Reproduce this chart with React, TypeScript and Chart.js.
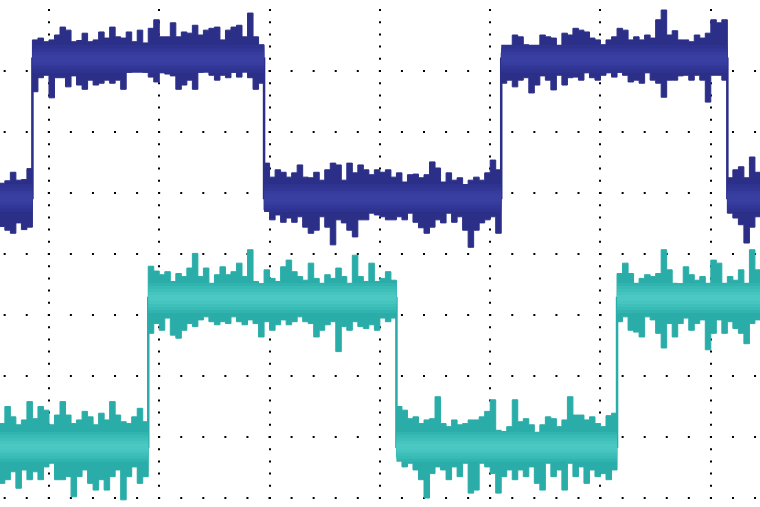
import { useEffect, useRef } from "react";
import { Chart, registerables } from "chart.js";

Chart.register(...registerables);

// time base (divisions) and visible window
const T0 = -0.45;
const DT = 0.05;
const X_MIN = -0.444;
const X_MAX = 6.446;
const Y_MIN = -0.1475;
const Y_MAX = 8.164;
const xGridTicks = [0, 1, 2, 3, 4, 5, 6];
const yGridTicks = [0, 1, 2, 3, 4, 5, 6, 7];

// channel 1 (blue): nominal levels and switching times
const blueEdges = [-0.15, 1.95, 4.1, 6.15];
const blueLevels = [4.92, 7.2, 4.92, 7.2, 4.92];
// channel 1 noise envelope (upper / lower), one value every 0.05 div
const blueTop = [
  5.16, 5.2, 5.34, 5.21, 5.22, 5.4,
  7.51, 7.54, 7.48, 7.51, 7.59, 7.72, 7.67, 7.48, 7.5, 7.62, 7.48, 7.51, 7.64, 7.54, 7.72, 7.56, 7.54, 7.64, 7.48, 7.67, 7.46,
  7.7, 7.84, 7.56, 7.56, 7.79, 7.56, 7.64, 7.62, 7.75, 7.59, 7.67, 7.7, 7.72, 7.51, 7.67, 7.72, 7.75, 7.56, 7.95, 7.56, 7.43,
  5.49, 5.26, 5.38, 5.34, 5.26, 5.33, 5.46, 5.26, 5.25, 5.34, 5.21, 5.38, 5.49, 5.46, 5.21, 5.49, 5.33, 5.46, 5.38, 5.3, 5.38,
  5.34, 5.38, 5.26, 5.33, 5.18, 5.3, 5.31, 5.25, 5.3, 5.51, 5.41, 5.18, 5.33, 5.21, 5.25, 5.13, 5.21, 5.26, 5.21, 5.33, 5.54, 5.38,
  7.3, 7.38, 7.59, 7.56, 7.43, 7.39, 7.39, 7.59, 7.56, 7.54, 7.39, 7.62, 7.59, 7.7, 7.67, 7.64, 7.54, 7.51, 7.43, 7.51, 7.56,
  7.7, 7.67, 7.51, 7.56, 7.51, 7.59, 7.54, 7.84, 8.0, 7.59, 7.66, 7.51, 7.51, 7.48, 7.59, 7.54, 7.62, 7.84, 7.79, 7.84,
  5.25, 5.38, 5.43, 5.25, 5.59, 5.34, 5.34,
];
const blueBottom = [
  4.45, 4.39, 4.34, 4.51, 4.4, 4.44,
  6.66, 6.89, 6.93, 6.56, 6.89, 6.89, 6.74, 6.92, 6.77, 6.7, 6.85, 6.77, 6.8, 6.85, 6.8, 6.85, 6.7, 6.98, 7.05, 7.02, 6.98,
  6.9, 6.82, 6.97, 6.95, 6.92, 6.7, 6.77, 6.85, 6.7, 6.98, 7.02, 6.93, 6.85, 6.93, 6.89, 6.98, 6.9, 7.02, 6.89, 6.7, 6.8,
  4.72, 4.56, 4.64, 4.52, 4.59, 4.52, 4.61, 4.44, 4.34, 4.39, 4.61, 4.44, 4.15, 4.56, 4.51, 4.39, 4.28, 4.56, 4.56, 4.67, 4.64,
  4.61, 4.56, 4.56, 4.61, 4.56, 4.67, 4.52, 4.43, 4.34, 4.44, 4.56, 4.51, 4.67, 4.52, 4.61, 4.39, 4.11, 4.39, 4.51, 4.56, 4.61, 4.34,
  6.8, 6.85, 6.74, 6.85, 6.89, 6.64, 6.77, 6.92, 6.85, 6.69, 6.93, 6.77, 6.89, 6.9, 6.85, 6.97, 6.89, 6.85, 6.93, 6.97, 6.9,
  6.98, 6.93, 6.82, 6.85, 6.8, 6.97, 6.85, 6.8, 6.57, 6.85, 6.85, 6.92, 6.93, 6.85, 6.93, 6.85, 6.49, 6.93, 6.93, 6.85,
  4.67, 4.59, 4.48, 4.18, 4.44, 4.61, 4.61,
];

// channel 2 (teal)
const tealEdges = [0.9, 3.15, 5.15];
const tealLevels = [0.84, 3.28, 0.84, 3.28];
const tealTop = [
  1.22, 1.5, 1.33, 1.2, 1.28, 1.58, 1.3, 1.5, 1.44, 1.2, 1.36, 1.58, 1.36, 1.22, 1.28, 1.42, 1.33, 1.2, 1.39, 1.28, 1.58, 1.36,
  1.25, 1.22, 1.33, 1.47, 1.25,
  3.8, 3.72, 3.66, 3.71, 3.55, 3.68, 3.63, 3.77, 4.01, 3.63, 3.77, 3.52, 3.66, 3.79, 3.66, 3.71, 3.85, 3.63, 4.07, 3.55, 3.49,
  3.74, 3.6, 3.55, 3.79, 3.9, 3.71, 3.63, 3.57, 3.85, 3.6, 3.52, 3.66, 3.6, 3.77, 3.63, 3.52, 3.98, 3.63, 3.55, 3.85, 3.55,
  3.6, 3.71, 3.57,
  1.5, 1.44, 1.3, 1.33, 1.22, 1.28, 1.3, 1.66, 1.22, 1.17, 1.28, 1.2, 1.22, 1.28, 1.28, 1.33, 1.42, 1.61, 1.11, 1.09,
  1.17, 1.61, 1.25, 1.3, 1.2, 1.0, 1.2, 1.33, 1.3, 1.17, 1.28, 1.66, 1.36, 1.36, 1.28, 1.33, 1.22, 1.17, 1.35, 1.39,
  3.68, 3.85, 3.68, 3.52, 3.6, 3.66, 3.63, 3.68, 4.07, 3.74, 3.52, 3.45, 3.79, 3.66, 3.57, 3.63, 3.52, 3.9, 3.85, 3.52,
  3.63, 3.57, 3.74, 3.52, 4.07, 3.74, 3.74,
];
const tealBottom = [
  0.24, 0.3, 0.43, 0.16, 0.46, 0.3, 0.43, 0.3, 0.51, 0.57, 0.3, 0.3, 0.35, 0.02, 0.35, 0.46, 0.24, 0.13, 0.3, 0.13, 0.35, 0.46,
  -0.03, 0.35, 0.51, 0.24, 0.35,
  2.7, 2.86, 2.75, 2.95, 2.67, 2.62, 2.75, 2.86, 2.81, 2.92, 2.97, 2.89, 2.84, 2.89, 2.86, 2.97, 2.89, 2.84, 2.92, 2.86, 2.64,
  2.89, 2.75, 2.84, 2.92, 2.84, 2.89, 2.97, 2.89, 2.86, 2.64, 2.75, 2.84, 2.89, 2.4, 2.81, 2.75, 2.89, 2.81, 2.78, 2.84, 2.75,
  2.95, 2.89, 2.95,
  0.68, 0.51, 0.57, 0.46, 0.3, 0.0, 0.4, 0.51, 0.46, 0.3, 0.51, 0.35, 0.57, 0.08, 0.13, 0.57, 0.51, 0.4, 0.08, 0.35,
  0.46, 0.3, 0.46, 0.35, 0.51, 0.24, 0.13, 0.57, 0.35, 0.46, 0.13, 0.57, 0.35, 0.51, 0.24, 0.46, 0.35, 0.4, 0.3, 0.46,
  2.89, 2.97, 2.75, 2.72, 2.64, 2.97, 2.92, 2.7, 2.46, 2.86, 2.64, 2.86, 2.95, 2.75, 2.86, 2.92, 2.43, 2.7, 2.92, 2.7,
  2.89, 2.78, 2.7, 2.53, 2.86, 2.92, 2.92,
];

type Pt = { x: number; y: number };
type Layer = { color: string; width: number };

const sampled = (vals: number[]): Pt[] =>
  vals.map((y, i) => ({ x: +(T0 + i * DT).toFixed(4), y }));

const levelPoints = (edges: number[], levels: number[], n: number): Pt[] => {
  const starts = [T0, ...edges];
  const ends = [...edges, +(T0 + (n - 1) * DT).toFixed(4)];
  return levels.flatMap((lv, i) => [
    { x: starts[i], y: lv },
    { x: ends[i], y: lv },
  ]);
};

const hideVertical = (color: string) => (ctx: any) =>
  ctx.p0.parsed.x === ctx.p1.parsed.x ? "rgba(0,0,0,0)" : color;

function traceDatasets(
  top: number[],
  bottom: number[],
  edges: number[],
  levels: number[],
  dark: string,
  layers: Layer[]
) {
  const lv = levelPoints(edges, levels, top.length);
  const common = { pointRadius: 0, pointHoverRadius: 0, tension: 0 };
  return [
    {
      ...common,
      data: sampled(top),
      stepped: true,
      borderColor: dark,
      borderWidth: 1,
      backgroundColor: dark,
      fill: "+1",
      order: 20,
    },
    {
      ...common,
      data: sampled(bottom),
      stepped: true,
      borderColor: dark,
      borderWidth: 1,
      fill: false,
      order: 20,
    },
    {
      ...common,
      data: lv,
      borderColor: dark,
      borderWidth: 2.5,
      fill: false,
      order: 19,
    },
    ...layers.map((l, i) => ({
      ...common,
      data: lv,
      borderColor: l.color,
      borderWidth: l.width,
      borderCapStyle: "butt",
      fill: false,
      segment: { borderColor: hideVertical(l.color) },
      order: 18 - i,
    })),
  ];
}

export default function App() {
  const ref = useRef<HTMLCanvasElement | null>(null);

  useEffect(() => {
    document.body.style.margin = "0";
    if (!ref.current) return;
    const datasets = [
      ...traceDatasets(blueTop, blueBottom, blueEdges, blueLevels, "#2c2f88", [
        { color: "#2f3390", width: 28 },
        { color: "#323797", width: 21 },
        { color: "#363c9d", width: 14 },
        { color: "#393fa1", width: 8 },
      ]),
      ...traceDatasets(tealTop, tealBottom, tealEdges, tealLevels, "#2aada8", [
        { color: "#31b4af", width: 30 },
        { color: "#38bab5", width: 24 },
        { color: "#3fbfba", width: 18 },
        { color: "#46c4bf", width: 12 },
        { color: "#4cc8c3", width: 6 },
      ]),
    ];
    const chart = new Chart(ref.current, {
      type: "line",
      data: { datasets: datasets as any },
      options: {
        animation: false,
        responsive: false,
        maintainAspectRatio: false,
        devicePixelRatio: 1,
        layout: { padding: 0 },
        plugins: {
          legend: { display: false },
          tooltip: { enabled: false },
          title: { display: false },
        },
        scales: {
          x: {
            type: "linear",
            min: X_MIN,
            max: X_MAX,
            z: 1,
            afterBuildTicks: (axis: any) => {
              axis.ticks = xGridTicks.map((v) => ({ value: v }));
            },
            ticks: { display: false },
            grid: { color: "#000", lineWidth: 2, drawTicks: false },
            border: { display: false, dash: [2, 10.2], dashOffset: 3.2 },
          },
          y: {
            type: "linear",
            min: Y_MIN,
            max: Y_MAX,
            z: 1,
            afterBuildTicks: (axis: any) => {
              axis.ticks = yGridTicks.map((v) => ({ value: v }));
            },
            ticks: { display: false },
            grid: { color: "#000", lineWidth: 2, drawTicks: false },
            border: { display: false, dash: [2, 20.07], dashOffset: 18.4 },
          },
        },
      } as any,
    });
    return () => chart.destroy();
  }, []);

  return (
    <div style={{ width: 760, height: 507, background: "#fff" }}>
      <canvas ref={ref} width={760} height={507} style={{ display: "block" }} />
    </div>
  );
}
